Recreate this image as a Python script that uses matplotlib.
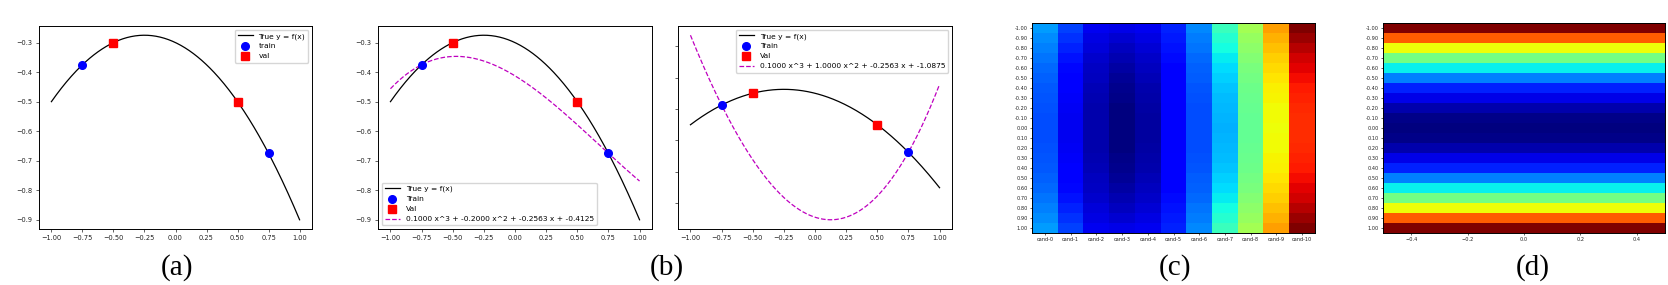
import numpy as np
import matplotlib
matplotlib.use("Agg")
import matplotlib.pyplot as plt

# true function and the two cubic fits (coefficients, highest power first)
true_coef = [-0.4, -0.2, -0.3]
fit1_coef = [0.1000, -0.2000, -0.2563, -0.4125]
fit2_coef = [0.1000, 1.0000, -0.2563, -1.0875]

x_train = [-0.75, 0.75]
y_train = [-0.375, -0.675]
x_val = [-0.5, 0.5]
y_val = [-0.3, -0.5]

# heatmap (c): per candidate value at row 0.00 and at rows +-1.00
cands = ["cand-%d" % i for i in range(11)]
cand_mid = [0.20, 0.10, 0.04, 0.00, 0.03, 0.11, 0.20, 0.30, 0.47, 0.64, 0.86]
cand_edge = [0.28, 0.19, 0.10, 0.09, 0.10, 0.16, 0.26, 0.42, 0.55, 0.74, 1.00]
row_labels = ["%.2f" % v for v in np.round(np.arange(-1.0, 1.01, 0.1), 2)]
row_labels = [s.replace("-0.00", "0.00") for s in row_labels]
# heatmap (d): one column, value per row
row_vals = [1.00, 0.81, 0.64, 0.49, 0.36, 0.25, 0.16, 0.09, 0.04, 0.01, 0.00,
            0.01, 0.04, 0.09, 0.16, 0.25, 0.36, 0.49, 0.64, 0.81, 1.00]

W, H = 1668, 285
fig = plt.figure(figsize=(W / 100, H / 100), dpi=100)


def box(l, r, t, b):
    return [l / W, 1 - b / H, (r - l) / W, (b - t) / H]


def style(ax, fs=4.8):
    ax.tick_params(labelsize=fs, length=2.5, width=0.5, pad=2, colors="#222")
    for s in ax.spines.values():
        s.set_linewidth(0.7)


xs = np.linspace(-1, 1, 300)
ms = 5.5


def curve_panel(ax, fit, names, loc):
    ax.plot(xs, np.polyval(true_coef, xs), color="k", lw=0.9, label="True y = f(x)")
    ax.plot(x_train, y_train, "o", color="blue", ms=ms, label=names[0], zorder=3)
    ax.plot(x_val, y_val, "s", color="red", ms=ms, label=names[1], zorder=3)
    if fit is not None:
        lab = "%.4f x^3 + %.4f x^2 + %.4f x + %.4f" % tuple(fit)
        ax.plot(xs, np.polyval(fit, xs), "--", color="m", lw=0.9, label=lab)
    ax.set_xticks([-1, -0.75, -0.5, -0.25, 0, 0.25, 0.5, 0.75, 1])
    ax.legend(loc=loc, fontsize=5.4, handlelength=2.0, borderpad=0.4,
              labelspacing=0.5, framealpha=0.8)
    style(ax)


# (a)
ax1 = fig.add_axes(box(39, 312, 26, 229))
curve_panel(ax1, None, ["train", "val"], "upper right")

# (b) left and right
ax2 = fig.add_axes(box(378, 652, 26, 229))
curve_panel(ax2, fit1_coef, ["Train", "Val"], "lower left")

ax3 = fig.add_axes(box(678, 952, 26, 229))
curve_panel(ax3, fit2_coef, ["Train", "Val"], "upper right")
ax3.set_yticks([0.0, -0.2, -0.4, -0.6, -0.8, -1.0])
ax3.set_yticklabels([])

# (c)
grid_c = np.array(cand_mid)[None, :] + \
    (np.array(cand_edge) - np.array(cand_mid))[None, :] * np.array(row_vals)[:, None]
ax4 = fig.add_axes(box(1032, 1315, 23, 233))
ax4.imshow(grid_c, cmap="jet", aspect="auto", interpolation="nearest")
ax4.set_xticks(range(len(cands)))
ax4.set_xticklabels(cands)
ax4.set_yticks(range(len(row_labels)))
ax4.set_yticklabels(row_labels)
style(ax4, 3.6)
ax4.tick_params(length=1.5, pad=1.5)

# (d)
ax5 = fig.add_axes(box(1383, 1665, 23, 233))
ax5.imshow(np.array(row_vals)[:, None], cmap="jet", aspect="auto",
           interpolation="nearest", extent=[-0.5, 0.5, 20.5, -0.5])
ax5.set_xticks([-0.4, -0.2, 0.0, 0.2, 0.4])
ax5.set_yticks(range(len(row_labels)))
ax5.set_yticklabels(row_labels)
style(ax5, 3.6)
ax5.tick_params(length=1.5, pad=1.5)

for lab, xc in [("(a)", 177), ("(b)", 667), ("(c)", 1175), ("(d)", 1533)]:
    fig.text(xc / W, 1 - 268 / H, lab, ha="center", va="center",
             fontsize=21, family="Liberation Serif")

fig.savefig("out.png", dpi=100)
